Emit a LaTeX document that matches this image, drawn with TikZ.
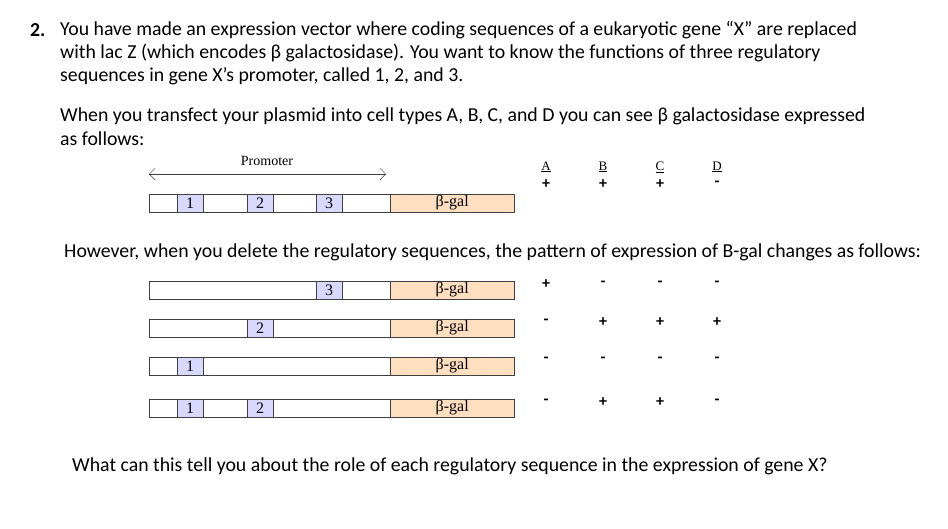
\documentclass[tikz,border=0pt]{standalone}
\usepackage{fontspec}
\usetikzlibrary{arrows.meta}
\setmainfont{Carlito}
\newfontfamily\ser{Liberation Serif}
\begin{document}
\begin{tikzpicture}[x=1pt,y=-1pt,
  txt/.style={anchor=west,inner sep=0pt,font=\fontsize{19.8}{22}\selectfont},
  reg/.style={draw=black!75,fill=blue!15,minimum width=26pt,minimum height=18pt,inner sep=0pt,font=\ser\fontsize{16}{16}\selectfont},
  gal/.style={draw=black!75,fill=orange!25,minimum width=124pt,minimum height=18pt,inner sep=0pt,font=\ser\fontsize{16}{16}\selectfont},
  bar/.style={draw=black!75,fill=white,minimum width=242pt,minimum height=18pt,inner sep=0pt},
  sg/.style={font=\bfseries\fontsize{16}{16}\selectfont,inner sep=0pt}]
\useasboundingbox (0,0) rectangle (948,528);
\node[txt,font=\bfseries\fontsize{19.8}{22}\selectfont] (n) at (30,30) {2.};
\node[txt] (t1) at (60,30) {You have made an expression vector where coding sequences of a eukaryotic gene “X” are replaced};
\node[txt] (t2) at (60,53) {with lac Z (which encodes β galactosidase). You want to know the functions of three regulatory};
\node[txt] (t3) at (60,76) {sequences in gene X’s promoter, called 1, 2, and 3.};
\node[txt] (t4) at (60,116) {When you transfect your plasmid into cell types A, B, C, and D you can see β galactosidase expressed};
\node[txt] (t5) at (60,139) {as follows:};
\node[txt] (t6) at (64,252) {However, when you delete the regulatory sequences, the pattern of expression of B-gal changes as follows:};
\node[txt] (t7) at (72,466) {What can this tell you about the role of each regulatory sequence in the expression of gene  X?};
\node[font=\ser\fontsize{14}{14}\selectfont] (pr) at (267,161) {Promoter};
\coordinate (pl) at (149,174); \coordinate (prr) at (386,174);
\draw[<->,>={Straight Barb[length=6pt]},black!75] (pl) -- (prr);
\foreach \r/\y/\regs/\sA/\sB/\sC/\sD in {0/203/{1,2,3}/+/+/+/-, 1/290/{3}/+/-/-/-, 2/328/{2}/-/+/+/+, 3/366/{1}/-/-/-/-, 4/408/{1,2}/-/+/+/-}{
  \node[bar,anchor=west] (b\r) at (149,\y) {};
  \node[gal,anchor=west] (g\r) at (390,\y) {β-gal};
  \foreach \k in \regs {
    \pgfmathsetmacro\xx{\k==1 ? 190 : (\k==2 ? 260 : 329)}
    \node[reg] (r\r\k) at (\xx,\y) {\k};
  }
  \ifnum\r>0
  \node[sg] (sa\r) at (546,\y-6) {\sA};
  \node[sg] (sb\r) at (603,\y-6) {\sB};
  \node[sg] (sc\r) at (660,\y-6) {\sC};
  \node[sg] (sd\r) at (717,\y-6) {\sD};
  \fi
}
\foreach \l/\x/\s in {A/546/+,B/603/+,C/660/+,D/717/-}{
  \node[font=\ser\fontsize{13}{13}\selectfont,inner sep=0pt] (h\l) at (\x,167) {\underline{\l}};
  \node[sg] (s\l) at (\x,184) {\s};
}
\end{tikzpicture}
\end{document}
